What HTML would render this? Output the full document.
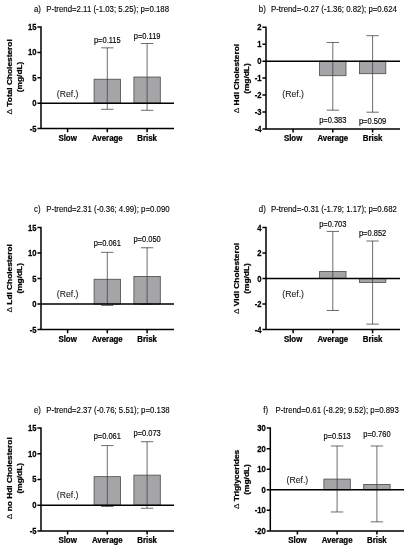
<!DOCTYPE html>
<html lang="en"><head><meta charset="utf-8"><title>Figure</title>
<style>html,body{margin:0;padding:0;background:#fff;}body{width:410px;height:550px;overflow:hidden;}svg{display:block;}text{font-family:"Liberation Sans", Arial, sans-serif;}.t{font-size:8.53px;fill:#000;stroke:#000;stroke-width:0.12;}.k{font-size:8.30px;font-weight:bold;fill:#000;stroke:#000;stroke-width:0.25;text-anchor:end;}.l{font-size:8.40px;font-weight:bold;fill:#000;stroke:#000;stroke-width:0.25;text-anchor:middle;}.p{font-size:8.15px;fill:#000;stroke:#000;stroke-width:0.15;text-anchor:middle;}.r{font-size:9.46px;fill:#1a1a1a;stroke:#1a1a1a;stroke-width:0.1;text-anchor:middle;}.y{font-size:7.90px;font-weight:bold;fill:#000;stroke:#000;stroke-width:0.25;text-anchor:middle;}.d{font-weight:normal;stroke-width:0.1;}.ax{stroke:#000;stroke-width:1.5;fill:none;}.b{fill:#a5a5a7;stroke:#4a4a4a;stroke-width:0.8;}.e{stroke:#3c3c3c;stroke-width:0.75;fill:none;}</style></head><body>
<svg width="410" height="550" viewBox="0 0 410 550">
<rect width="410" height="550" fill="#fff"/>
<g>
<text class="t" transform="translate(34 11.7) scale(0.92 1)">a)</text>
<text class="t" transform="translate(46.3 11.7) scale(0.92 1)">P-trend=2.11 (-1.03; 5.25); p=0.188</text>
<text class="y" transform="translate(12.4 76.9) rotate(-90) scale(1.055 1)"><tspan class="d">Δ</tspan> Total Cholesterol</text>
<text class="y" transform="translate(22.3 76.9) rotate(-90) scale(1.055 1)">(mg/dL)</text>
<rect class="b" x="94.1" y="79.22" width="26.4" height="23.98"/>
<path class="e" d="M107.3 47.83V109.3M101.1 47.83H113.5M101.1 109.3H113.5"/>
<text class="p" transform="translate(107.3 43) scale(0.92 1)">p=0.115</text>
<rect class="b" x="133.9" y="77.04" width="26.4" height="26.16"/>
<path class="e" d="M147.1 43.51V110.31M140.9 43.51H153.3M140.9 110.31H153.3"/>
<text class="p" transform="translate(147.1 39) scale(0.92 1)">p=0.119</text>
<text class="r" transform="translate(67.6 96.6) scale(0.92 1)">(Ref.)</text>
<path class="ax" d="M41 26.25V128.6H174M41 103.2H174M37.4 27H41M37.4 52.4H41M37.4 77.8H41M37.4 103.2H41M37.4 128.6H41M67.6 128.6V132.2M107.3 128.6V132.2M147.1 128.6V132.2"/>
<text class="k" transform="translate(36.5 29.9) scale(0.92 1)">15</text>
<text class="k" transform="translate(36.5 55.3) scale(0.92 1)">10</text>
<text class="k" transform="translate(36.5 80.7) scale(0.92 1)">5</text>
<text class="k" transform="translate(36.5 106.1) scale(0.92 1)">0</text>
<text class="k" transform="translate(36.5 131.5) scale(0.92 1)">-5</text>
<text class="l" transform="translate(67.6 140.6) scale(0.94 1)">Slow</text>
<text class="l" transform="translate(107.3 140.6) scale(0.94 1)">Average</text>
<text class="l" transform="translate(147.1 140.6) scale(0.94 1)">Brisk</text>
</g>
<g>
<text class="t" transform="translate(258.8 11.7) scale(0.92 1)">b)</text>
<text class="t" transform="translate(271 11.7) scale(0.92 1)">P-trend=-0.27 (-1.36; 0.82); p=0.624</text>
<text class="y" transform="translate(238.5 78.6) rotate(-90) scale(1.055 1)"><tspan class="d">Δ</tspan> Hdl Cholesterol</text>
<text class="y" transform="translate(248.7 78.6) rotate(-90) scale(1.055 1)">(mg/dL)</text>
<rect class="b" x="319.6" y="61.13" width="26.4" height="14.59"/>
<path class="e" d="M332.8 42.47V110.17M326.6 42.47H339M326.6 110.17H339"/>
<text class="p" transform="translate(332.8 122.5) scale(0.92 1)">p=0.383</text>
<rect class="b" x="359.4" y="61.13" width="26.4" height="12.56"/>
<path class="e" d="M372.6 35.68V112.2M366.4 35.68H378.8M366.4 112.2H378.8"/>
<text class="p" transform="translate(372.6 123.9) scale(0.92 1)">p=0.509</text>
<text class="r" transform="translate(293.1 96.6) scale(0.92 1)">(Ref.)</text>
<path class="ax" d="M266 26.45V129H400M266 61.13H400M262.4 27.2H266M262.4 44.17H266M262.4 61.13H266M262.4 78.1H266M262.4 95.07H266M262.4 112.03H266M262.4 129H266M293.1 129V132.6M332.8 129V132.6M372.6 129V132.6"/>
<text class="k" transform="translate(261.5 30.1) scale(0.92 1)">2</text>
<text class="k" transform="translate(261.5 47.07) scale(0.92 1)">1</text>
<text class="k" transform="translate(261.5 64.03) scale(0.92 1)">0</text>
<text class="k" transform="translate(261.5 81) scale(0.92 1)">-1</text>
<text class="k" transform="translate(261.5 97.97) scale(0.92 1)">-2</text>
<text class="k" transform="translate(261.5 114.93) scale(0.92 1)">-3</text>
<text class="k" transform="translate(261.5 131.9) scale(0.92 1)">-4</text>
<text class="l" transform="translate(293.1 141.1) scale(0.94 1)">Slow</text>
<text class="l" transform="translate(332.8 141.1) scale(0.94 1)">Average</text>
<text class="l" transform="translate(372.6 141.1) scale(0.94 1)">Brisk</text>
</g>
<g>
<text class="t" transform="translate(34 211.7) scale(0.92 1)">c)</text>
<text class="t" transform="translate(46.3 211.7) scale(0.92 1)">P-trend=2.31 (-0.36; 4.99); p=0.090</text>
<text class="y" transform="translate(12.4 278.35) rotate(-90) scale(1.055 1)"><tspan class="d">Δ</tspan> Ldl Cholesterol</text>
<text class="y" transform="translate(22.3 278.35) rotate(-90) scale(1.055 1)">(mg/dL)</text>
<rect class="b" x="94.1" y="279.26" width="26.4" height="24.84"/>
<path class="e" d="M107.3 252.34V305.38M101.1 252.34H113.5M101.1 305.38H113.5"/>
<text class="p" transform="translate(107.3 245.5) scale(0.92 1)">p=0.061</text>
<rect class="b" x="133.9" y="276.41" width="26.4" height="27.69"/>
<path class="e" d="M147.1 247.75V304.1M140.9 247.75H153.3M140.9 304.1H153.3"/>
<text class="p" transform="translate(147.1 241.6) scale(0.92 1)">p=0.050</text>
<text class="r" transform="translate(67.6 297.3) scale(0.92 1)">(Ref.)</text>
<path class="ax" d="M41 226.85V329.6H174M41 304.1H174M37.4 227.6H41M37.4 253.1H41M37.4 278.6H41M37.4 304.1H41M37.4 329.6H41M67.6 329.6V333.2M107.3 329.6V333.2M147.1 329.6V333.2"/>
<text class="k" transform="translate(36.5 230.5) scale(0.92 1)">15</text>
<text class="k" transform="translate(36.5 256) scale(0.92 1)">10</text>
<text class="k" transform="translate(36.5 281.5) scale(0.92 1)">5</text>
<text class="k" transform="translate(36.5 307) scale(0.92 1)">0</text>
<text class="k" transform="translate(36.5 332.5) scale(0.92 1)">-5</text>
<text class="l" transform="translate(67.6 342) scale(0.94 1)">Slow</text>
<text class="l" transform="translate(107.3 342) scale(0.94 1)">Average</text>
<text class="l" transform="translate(147.1 342) scale(0.94 1)">Brisk</text>
</g>
<g>
<text class="t" transform="translate(258.8 211.7) scale(0.92 1)">d)</text>
<text class="t" transform="translate(271 211.7) scale(0.92 1)">P-trend=-0.31 (-1.79; 1.17); p=0.682</text>
<text class="y" transform="translate(238.5 278.5) rotate(-90) scale(1.055 1)"><tspan class="d">Δ</tspan> Vldl Cholesterol</text>
<text class="y" transform="translate(248.7 278.5) rotate(-90) scale(1.055 1)">(mg/dL)</text>
<rect class="b" x="319.6" y="271.46" width="26.4" height="7.14"/>
<path class="e" d="M332.8 231.42V310.48M326.6 231.42H339M326.6 310.48H339"/>
<text class="p" transform="translate(332.8 227.3) scale(0.92 1)">p=0.703</text>
<rect class="b" x="359.4" y="278.6" width="26.4" height="3.82"/>
<path class="e" d="M372.6 240.99V324.12M366.4 240.99H378.8M366.4 324.12H378.8"/>
<text class="p" transform="translate(372.6 235.9) scale(0.92 1)">p=0.852</text>
<text class="r" transform="translate(293.1 297.3) scale(0.92 1)">(Ref.)</text>
<path class="ax" d="M266 226.85V329.6H400M266 278.6H400M262.4 227.6H266M262.4 253.1H266M262.4 278.6H266M262.4 304.1H266M262.4 329.6H266M293.1 329.6V333.2M332.8 329.6V333.2M372.6 329.6V333.2"/>
<text class="k" transform="translate(261.5 230.5) scale(0.92 1)">4</text>
<text class="k" transform="translate(261.5 256) scale(0.92 1)">2</text>
<text class="k" transform="translate(261.5 281.5) scale(0.92 1)">0</text>
<text class="k" transform="translate(261.5 307) scale(0.92 1)">-2</text>
<text class="k" transform="translate(261.5 332.5) scale(0.92 1)">-4</text>
<text class="l" transform="translate(293.1 342) scale(0.94 1)">Slow</text>
<text class="l" transform="translate(332.8 342) scale(0.94 1)">Average</text>
<text class="l" transform="translate(372.6 342) scale(0.94 1)">Brisk</text>
</g>
<g>
<text class="t" transform="translate(34 412.8) scale(0.92 1)">e)</text>
<text class="t" transform="translate(46.3 412.8) scale(0.92 1)">P-trend=2.37 (-0.76; 5.51); p=0.138</text>
<text class="y" transform="translate(12.4 478.2) rotate(-90) scale(1.055 1)"><tspan class="d">Δ</tspan> no Hdl Cholesterol</text>
<text class="y" transform="translate(22.3 478.2) rotate(-90) scale(1.055 1)">(mg/dL)</text>
<rect class="b" x="94.1" y="476.67" width="26.4" height="28.53"/>
<path class="e" d="M107.3 445.58V506.49M101.1 445.58H113.5M101.1 506.49H113.5"/>
<text class="p" transform="translate(107.3 438.8) scale(0.92 1)">p=0.061</text>
<rect class="b" x="133.9" y="475.13" width="26.4" height="30.07"/>
<path class="e" d="M147.1 441.72V508.28M140.9 441.72H153.3M140.9 508.28H153.3"/>
<text class="p" transform="translate(147.1 436.4) scale(0.92 1)">p=0.073</text>
<text class="r" transform="translate(67.6 498) scale(0.92 1)">(Ref.)</text>
<path class="ax" d="M41 427.35V530.9H174M41 505.2H174M37.4 428.1H41M37.4 453.8H41M37.4 479.5H41M37.4 505.2H41M37.4 530.9H41M67.6 530.9V534.5M107.3 530.9V534.5M147.1 530.9V534.5"/>
<text class="k" transform="translate(36.5 431) scale(0.92 1)">15</text>
<text class="k" transform="translate(36.5 456.7) scale(0.92 1)">10</text>
<text class="k" transform="translate(36.5 482.4) scale(0.92 1)">5</text>
<text class="k" transform="translate(36.5 508.1) scale(0.92 1)">0</text>
<text class="k" transform="translate(36.5 533.8) scale(0.92 1)">-5</text>
<text class="l" transform="translate(67.6 543.2) scale(0.94 1)">Slow</text>
<text class="l" transform="translate(107.3 543.2) scale(0.94 1)">Average</text>
<text class="l" transform="translate(147.1 543.2) scale(0.94 1)">Brisk</text>
</g>
<g>
<text class="t" transform="translate(263.2 412.8) scale(0.92 1)">f)</text>
<text class="t" transform="translate(275.5 412.8) scale(0.92 1)">P-trend=0.61 (-8.29; 9.52); p=0.893</text>
<text class="y" transform="translate(239 479.4) rotate(-90) scale(1.055 1)"><tspan class="d">Δ</tspan> Triglycerides</text>
<text class="y" transform="translate(249.2 479.4) rotate(-90) scale(1.055 1)">(mg/dL)</text>
<rect class="b" x="323.9" y="479.09" width="26.4" height="10.69"/>
<path class="e" d="M337.1 445.99V511.98M330.9 445.99H343.3M330.9 511.98H343.3"/>
<text class="p" transform="translate(337.1 438.8) scale(0.92 1)">p=0.513</text>
<rect class="b" x="363.7" y="484.43" width="26.4" height="5.35"/>
<path class="e" d="M376.9 445.99V521.85M370.7 445.99H383.1M370.7 521.85H383.1"/>
<text class="p" transform="translate(376.9 436.5) scale(0.92 1)">p=0.760</text>
<text class="r" transform="translate(297.4 483) scale(0.92 1)">(Ref.)</text>
<path class="ax" d="M270.3 427.35V530.9H404M270.3 489.78H404M266.7 428.1H270.3M266.7 448.66H270.3M266.7 469.22H270.3M266.7 489.78H270.3M266.7 510.34H270.3M266.7 530.9H270.3M297.4 530.9V534.5M337.1 530.9V534.5M376.9 530.9V534.5"/>
<text class="k" transform="translate(265.8 431) scale(0.92 1)">30</text>
<text class="k" transform="translate(265.8 451.56) scale(0.92 1)">20</text>
<text class="k" transform="translate(265.8 472.12) scale(0.92 1)">10</text>
<text class="k" transform="translate(265.8 492.68) scale(0.92 1)">0</text>
<text class="k" transform="translate(265.8 513.24) scale(0.92 1)">-10</text>
<text class="k" transform="translate(265.8 533.8) scale(0.92 1)">-20</text>
<text class="l" transform="translate(297.4 543.2) scale(0.94 1)">Slow</text>
<text class="l" transform="translate(337.1 543.2) scale(0.94 1)">Average</text>
<text class="l" transform="translate(376.9 543.2) scale(0.94 1)">Brisk</text>
</g>
</svg></body></html>
